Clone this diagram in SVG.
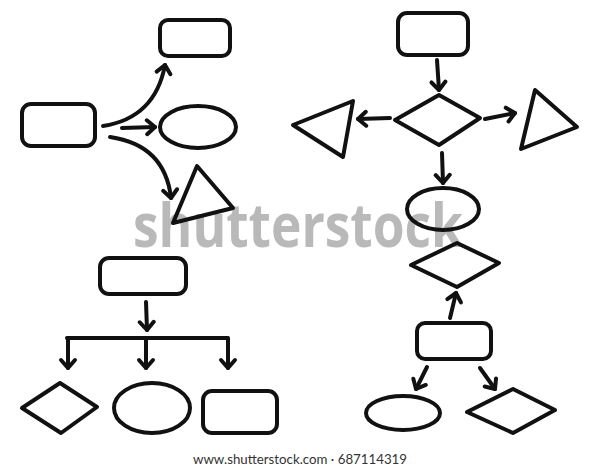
<svg xmlns="http://www.w3.org/2000/svg" width="600" height="470" viewBox="0 0 600 470">
<style>
.s{fill:none;stroke:#111;stroke-width:4;stroke-linecap:round;stroke-linejoin:round}
.c{fill:none;stroke:#111;stroke-width:4;stroke-linecap:round;marker-end:url(#ah)}
.wm{font-family:"Open Sans","Liberation Sans",sans-serif;font-weight:bold;fill:#b9b9b9}
.ft{font-family:Lato,"Liberation Sans",sans-serif;fill:#333}
</style>
<defs>
<marker id="ah" viewBox="-12 -10 16 20" markerWidth="16" markerHeight="20" refX="0" refY="0" orient="auto" markerUnits="userSpaceOnUse">
<path d="M-8,-7 L0,0 L-8,7" fill="none" stroke="#111" stroke-width="4" stroke-linecap="round" stroke-linejoin="round"/>
</marker>
</defs>
<rect width="600" height="470" fill="#fff"/>
<text class="wm" x="133" y="247" font-size="60" textLength="330" lengthAdjust="spacingAndGlyphs">shutterstock</text>

<g id="connectors">
<path class="c" d="M103,126 Q155,118 165,65"/>
<path class="c" d="M122,128 L155,127"/>
<path class="c" d="M110,137 Q165,145 171,198"/>
<path class="c" d="M437,60 L439,90"/>
<path class="c" d="M390,118 L358,119"/>
<path class="c" d="M485,119 L515,113"/>
<path class="c" d="M442,153 L443,183"/>
<path class="c" d="M450,318 L456,293"/>
<path class="c" d="M427,367 L416,389"/>
<path class="c" d="M480,368 L495,389"/>
<path class="c" d="M146,302 L147,330"/>
<path class="s" d="M67,338 L227,338"/>
<path class="c" d="M68,338 L68,368"/>
<path class="c" d="M146,338 L146,368"/>
<path class="c" d="M228,338 L228,368"/>
</g>

<g id="tl-start"><rect class="s" x="22" y="104" width="73" height="42" rx="9"/></g>
<g id="tl-rect"><rect class="s" x="160" y="20" width="70" height="36" rx="8"/></g>
<g id="tl-ellipse"><ellipse class="s" cx="198" cy="127" rx="38" ry="21"/></g>
<g id="tl-triangle"><polygon class="s" points="197,166 233,208 173,223"/></g>

<g id="tr-rect"><rect class="s" x="398" y="13" width="70" height="42" rx="9"/></g>
<g id="tr-diamond"><polygon class="s" points="395,120 439,95 480,118 439,145"/></g>
<g id="tr-left-triangle"><polygon class="s" points="293,125 353,101 343,157"/></g>
<g id="tr-right-triangle"><polygon class="s" points="535,90 577,127 521,149"/></g>
<g id="tr-ellipse"><ellipse class="s" cx="443" cy="209" rx="36" ry="21"/></g>

<g id="br-diamond-top"><polygon class="s" points="411,265 457,243 499,263 457,287"/></g>
<g id="br-rect"><rect class="s" x="417" y="323" width="74" height="36" rx="8"/></g>
<g id="br-ellipse"><ellipse class="s" cx="403" cy="413" rx="37" ry="17"/></g>
<g id="br-diamond"><polygon class="s" points="467,412 513,389 555,410 513,433"/></g>

<g id="bl-rect"><rect class="s" x="100" y="258" width="86" height="36" rx="9"/></g>
<g id="bl-diamond"><polygon class="s" points="22,408 60,383 97,407 61,433"/></g>
<g id="bl-ellipse"><ellipse class="s" cx="152" cy="408" rx="38" ry="25"/></g>
<g id="bl-rect2"><rect class="s" x="203" y="391" width="74" height="42" rx="9"/></g>

<text class="ft" x="193" y="464" font-size="13" textLength="214" lengthAdjust="spacingAndGlyphs">www.shutterstock.com · 687114319</text>
</svg>
